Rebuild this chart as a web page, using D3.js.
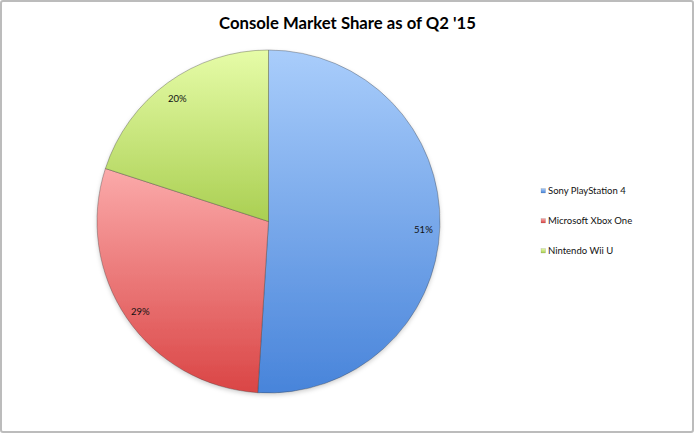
<!DOCTYPE html>
<html>
<head>
<meta charset="utf-8">
<script src="https://cdn.jsdelivr.net/npm/d3@7"></script>
<style>
html,body{margin:0;padding:0;background:#fff;}
svg{display:block;}
</style>
</head>
<body>
<svg id="chart" width="694" height="433"></svg>
<script>
const categories = ["Sony PlayStation 4", "Microsoft Xbox One", "Nintendo Wii U"];
const shares = [51, 29, 20];
const labels = ["51%", "29%", "20%"];
const topColors = ["#a9cdfb", "#fbaaaa", "#e6fca8"];
const bottomColors = ["#4884da", "#da4545", "#aacf52"];
const title = "Console Market Share as of Q2 '15";

const W = 694, H = 433;
const svg = d3.select("#chart");
const defs = svg.append("defs");

categories.forEach((c, i) => {
  const g = defs.append("linearGradient").attr("id", "grad" + i)
    .attr("x1", 0).attr("y1", 0).attr("x2", 0).attr("y2", 1);
  g.append("stop").attr("offset", "0%").attr("stop-color", topColors[i]);
  g.append("stop").attr("offset", "100%").attr("stop-color", bottomColors[i]);
});
const f = defs.append("filter").attr("id", "shadow").attr("x", "-10%").attr("y", "-10%").attr("width", "120%").attr("height", "125%");
f.append("feDropShadow").attr("dx", 0).attr("dy", 2).attr("stdDeviation", 2).attr("flood-color", "#000").attr("flood-opacity", 0.18);

// border
svg.append("rect").attr("x", 1).attr("y", 1).attr("width", W - 2).attr("height", H - 2)
  .attr("rx", 2).attr("fill", "#fff").attr("stroke", "#bcbcbc").attr("stroke-width", 2);

// title
const t = svg.append("text").attr("x", 347.5).attr("y", 29).attr("text-anchor", "middle")
  .attr("font-family", "Lato, 'Open Sans', sans-serif").attr("font-weight", "bold")
  .attr("font-size", 17).attr("fill", "#000").text(title);
if (t.node().getComputedTextLength() > 258) t.attr("textLength", 257).attr("lengthAdjust", "spacingAndGlyphs");

// pie
const cx = 268.5, cy = 221.5, R = 171.5;
const pie = d3.pie().sort(null).value(d => d)(shares);
const arc = d3.arc().innerRadius(0).outerRadius(R);
const labelArc = d3.arc().innerRadius(155).outerRadius(155);
const g = svg.append("g").attr("transform", `translate(${cx},${cy})`);
const slices = g.append("g").attr("filter", "url(#shadow)");
slices.selectAll("path").data(pie).join("path")
  .attr("d", arc)
  .attr("fill", (d, i) => `url(#grad${i})`)
  .attr("stroke", "rgba(60,60,60,0.45)")
  .attr("stroke-width", 0.8)
  .attr("stroke-linejoin", "round");

g.selectAll("text.lbl").data(pie).join("text").attr("class", "lbl")
  .attr("transform", d => { const c = labelArc.centroid(d); return `translate(${c[0]},${c[1] + 3})`; })
  .attr("text-anchor", "middle").attr("dy", "0.35em")
  .attr("font-family", "Lato, 'Open Sans', sans-serif").attr("font-size", 9.5)
  .attr("fill", "#111")
  .text((d, i) => labels[i]);

// legend
const leg = svg.append("g").attr("transform", "translate(541,0)");
const ly = d3.scalePoint().domain(categories).range([191, 251]);
categories.forEach((c, i) => {
  const y = ly(c);
  leg.append("rect").attr("x", 0).attr("y", y - 2.5).attr("width", 4.5).attr("height", 4.5)
    .attr("fill", `url(#grad${i})`).attr("stroke", "rgba(60,60,60,0.35)").attr("stroke-width", 0.4);
  leg.append("text").attr("x", 7).attr("y", y).attr("dy", "0.35em")
    .attr("font-family", "Lato, 'Open Sans', sans-serif").attr("font-size", 9.5).attr("fill", "#111")
    .text(c);
});
</script>
</body>
</html>
